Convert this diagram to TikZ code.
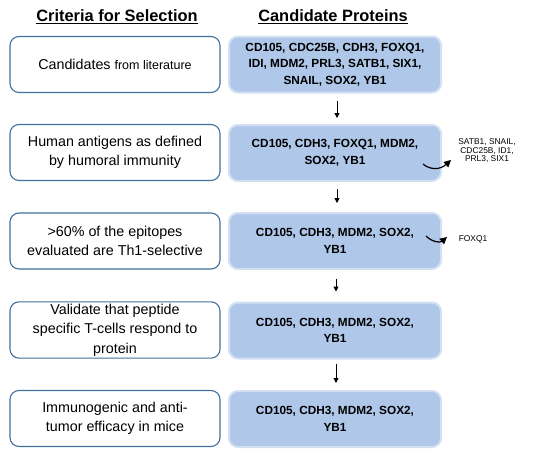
\documentclass[tikz,border=0pt]{standalone}
\usepackage{fontspec}
\setmainfont{Liberation Sans}
\usetikzlibrary{arrows.meta}
\definecolor{boxblue}{HTML}{AFC7E8}
\definecolor{halo}{HTML}{D3E0F2}
\definecolor{edgeblue}{HTML}{41719C}
\begin{document}
\begin{tikzpicture}[x=1pt,y=-1pt,
  crit/.style={draw=edgeblue,line width=1.1pt,rounded corners=9pt,fill=white,
    minimum width=210pt,minimum height=56pt,align=center,inner sep=2pt,
    font=\fontsize{14.3}{19.5}\selectfont},
  prot/.style={fill=boxblue,draw=halo,line width=2pt,rounded corners=9pt,
    minimum width=212pt,minimum height=56pt,align=center,inner sep=2pt,
    font=\bfseries\fontsize{11.8}{16.5}\selectfont},
  head/.style={font=\bfseries\fontsize{16.4}{19}\selectfont},
  down/.style={-{Triangle[length=5pt,width=5pt]},line width=1pt},
  side/.style={-{Triangle[length=7pt,width=7pt]},line width=1.2pt},
  tiny/.style={font=\fontsize{8.4}{8.6}\selectfont,align=center}]
\useasboundingbox (0,0) rectangle (550,458);
\node[head] (h1) at (117,17) {\underline{Criteria for Selection}};
\node[head] (h2) at (333,17) {\underline{Candidate Proteins}};

\node[crit] (c1) at (115,64.5) {Candidates {\fontsize{12.5}{16}\selectfont from literature}};
\node[crit] (c2) at (115,152.5) {Human antigens as defined\\by humoral immunity};
\node[crit] (c3) at (115,241) {>60\% of the epitopes\\evaluated are Th1-selective};
\node[crit] (c4) at (115,330) {Validate that peptide\\specific T-cells respond to\\protein};
\node[crit] (c5) at (115,418.5) {Immunogenic and anti-\\tumor efficacy in mice};

\node[prot] (p1) at (335,64.5) {CD105, CDC25B, CDH3, FOXQ1,\\IDI, MDM2, PRL3, SATB1, SIX1,\\SNAIL, SOX2, YB1};
\node[prot] (p2) at (335,153) {CD105, CDH3, FOXQ1, MDM2,\\SOX2, YB1};
\node[prot] (p3) at (335,241) {CD105, CDH3, MDM2, SOX2,\\YB1};
\node[prot] (p4) at (335,330.5) {CD105, CDH3, MDM2, SOX2,\\YB1};
\node[prot] (p5) at (335,419) {CD105, CDH3, MDM2, SOX2,\\YB1};

\draw[down,shorten <=7pt,shorten >=6pt] (p1.south -| 337,0) -- (p2.north -| 337,0);
\draw[down,shorten <=7pt,shorten >=9pt] (p2.south -| 337,0) -- (p3.north -| 337,0);
\draw[down,shorten <=9pt,shorten >=10pt] (p3.south -| 336,0) -- (p4.north -| 336,0);
\draw[down,shorten <=4pt,shorten >=7pt] (p4.south -| 336,0) -- (p5.north -| 336,0);

\node[tiny] (r2) at (487,151) {SATB1, SNAIL,\\CDC25B, ID1,\\PRL3, SIX1};
\node[tiny] (r3) at (473,239) {FOXQ1};
\coordinate (a2s) at (423,164);
\coordinate (a2e) at (451,160);
\coordinate (a3s) at (426,236);
\coordinate (a3e) at (447,237);
\draw[side] (a2s) .. controls (430,170) and (440,170) .. (a2e);
\draw[side] (a3s) .. controls (432,242) and (440,243) .. (a3e);
\end{tikzpicture}
\end{document}
